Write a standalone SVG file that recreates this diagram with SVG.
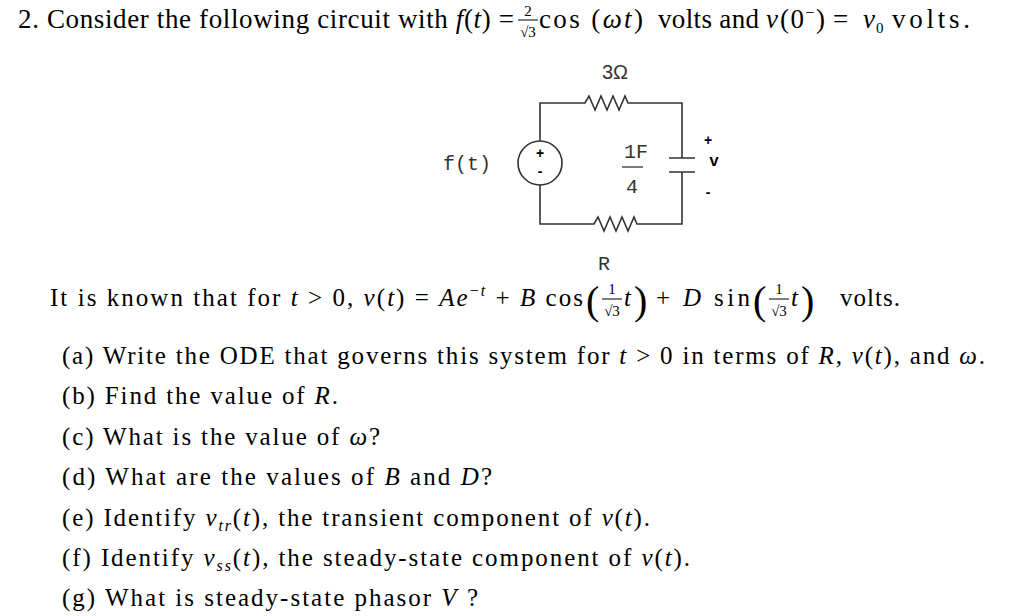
<svg xmlns="http://www.w3.org/2000/svg" width="1024" height="616" viewBox="0 0 1024 616">
<style>
.t{font-family:"Liberation Serif",serif;font-size:25px;fill:#000}
.h{font-family:"Liberation Serif",serif;font-size:27px;fill:#000}
.s{font-family:"Liberation Serif",serif;font-size:15px;fill:#000}
.p{font-family:"Liberation Serif",serif;font-size:40px;fill:#000}
.m{font-family:"Liberation Mono",monospace;font-size:20px;fill:#333}
.w{stroke:#333;stroke-width:1.6;fill:none}
</style>
<rect width="1024" height="616" fill="#fff"/>
<g id="title">
<text class="h" x="18" y="28" textLength="496" lengthAdjust="spacing">2. Consider the following circuit with <tspan font-style="italic">f</tspan>(<tspan font-style="italic">t</tspan>) =</text>
<text class="s" x="528" y="16" text-anchor="middle">2</text><line x1="518" y1="20" x2="538" y2="20" stroke="#000" stroke-width="1"/><text class="s" x="528" y="37" text-anchor="middle">√3</text>
<text class="h" x="539" y="28" textLength="104" lengthAdjust="spacing">cos (<tspan font-style="italic">ωt</tspan>)</text>
<text class="h" x="658" y="28" textLength="101" lengthAdjust="spacing">volts and</text>
<text class="h" x="766" y="28" font-style="italic">v</text>
<text class="h" x="780" y="28" textLength="45" lengthAdjust="spacing">(0<tspan font-size="16" dy="-10">−</tspan><tspan dy="10">)</tspan></text>
<text class="h" x="833" y="28">=</text>
<text class="h" x="863" y="28" font-style="italic">v</text><text class="s" x="876" y="33">0</text>
<text class="h" x="892" y="28" textLength="78" lengthAdjust="spacing">volts.</text>
</g>
<g id="connectors">
<path class="w" d="M540 141V103H585l4 -7 6 14 6 -14 6 14 6 -14 6 14 6 -14 3 7H682V158M669 158H695M669 172H695M682 172V224H637l-3 -7 -6 14 -6 -14 -6 14 -6 -14 -6 14 -6 -14 -4 7H540V185"/>
</g>
<g id="source"><circle class="w" cx="540" cy="163" r="22"/><text x="540" y="158" font-family="Liberation Sans,sans-serif" font-size="14" font-weight="bold" text-anchor="middle">+</text><text x="540" y="176" font-family="Liberation Sans,sans-serif" font-size="14" font-weight="bold" text-anchor="middle">-</text></g>
<text class="m" x="443" y="170">f(t)</text>
<text x="615" y="79" font-family="Liberation Sans,sans-serif" font-size="20" fill="#333" text-anchor="middle">3Ω</text>
<text class="m" x="624" y="158">1F</text><line x1="622" y1="167" x2="643" y2="167" stroke="#333" stroke-width="1.3"/><text class="m" x="626" y="193">4</text>
<text x="708" y="145" font-family="Liberation Sans,sans-serif" font-size="14" font-weight="bold" text-anchor="middle">+</text>
<text x="714" y="166" font-family="Liberation Mono,monospace" font-size="16" font-weight="bold" text-anchor="middle">v</text>
<text x="708" y="197" font-family="Liberation Sans,sans-serif" font-size="14" font-weight="bold" text-anchor="middle">-</text>
<text class="m" x="598" y="270">R</text>
<text class="t" x="50" y="306" textLength="533" lengthAdjust="spacing">It is known that for <tspan font-style="italic">t</tspan> &gt; 0, <tspan font-style="italic">v</tspan>(<tspan font-style="italic">t</tspan>) = <tspan font-style="italic">Ae</tspan><tspan font-size="16" dy="-10">−<tspan font-style="italic">t</tspan></tspan><tspan dy="10"> + </tspan><tspan font-style="italic">B</tspan> cos</text>
<text class="p" x="586" y="314">(</text>
<g><text class="s" x="612" y="294" text-anchor="middle">1</text><line x1="602" y1="299" x2="622" y2="299" stroke="#000"/><text class="s" x="612" y="316" text-anchor="middle">√3</text></g>
<text class="t" x="624" y="306" font-style="italic">t</text>
<text class="p" x="634" y="314">)</text>
<text class="t" x="656" y="306" textLength="94" lengthAdjust="spacing">+ <tspan font-style="italic">D</tspan> sin</text>
<text class="p" x="753" y="314">(</text>
<g><text class="s" x="779" y="294" text-anchor="middle">1</text><line x1="769" y1="299" x2="789" y2="299" stroke="#000"/><text class="s" x="779" y="316" text-anchor="middle">√3</text></g>
<text class="t" x="791" y="306" font-style="italic">t</text>
<text class="p" x="801" y="314">)</text>
<text class="t" x="840" y="306" textLength="60" lengthAdjust="spacing">volts.</text>
<text class="t" x="62" y="364" textLength="923" lengthAdjust="spacing">(a) Write the ODE that governs this system for <tspan font-style="italic">t</tspan> &gt; 0 in terms of <tspan font-style="italic">R</tspan>, <tspan font-style="italic">v</tspan>(<tspan font-style="italic">t</tspan>), and <tspan font-style="italic">ω</tspan>.</text>
<text class="t" x="62" y="404" textLength="276" lengthAdjust="spacing">(b) Find the value of <tspan font-style="italic">R</tspan>.</text>
<text class="t" x="62" y="445" textLength="318" lengthAdjust="spacing">(c) What is the value of <tspan font-style="italic">ω</tspan>?</text>
<text class="t" x="62" y="485" textLength="430" lengthAdjust="spacing">(d) What are the values of <tspan font-style="italic">B</tspan> and <tspan font-style="italic">D</tspan>?</text>
<text class="t" x="62" y="526" textLength="588" lengthAdjust="spacing">(e) Identify <tspan font-style="italic">v</tspan><tspan font-size="16" font-style="italic" dy="5">tr</tspan><tspan dy="-5">(</tspan><tspan font-style="italic">t</tspan>), the transient component of <tspan font-style="italic">v</tspan>(<tspan font-style="italic">t</tspan>).</text>
<text class="t" x="62" y="566" textLength="628" lengthAdjust="spacing">(f) Identify <tspan font-style="italic">v</tspan><tspan font-size="16" font-style="italic" dy="5">ss</tspan><tspan dy="-5">(</tspan><tspan font-style="italic">t</tspan>), the steady-state component of <tspan font-style="italic">v</tspan>(<tspan font-style="italic">t</tspan>).</text>
<text class="t" x="62" y="606" textLength="416" lengthAdjust="spacing">(g) What is steady-state phasor <tspan font-style="italic">V</tspan> ?</text>
</svg>
